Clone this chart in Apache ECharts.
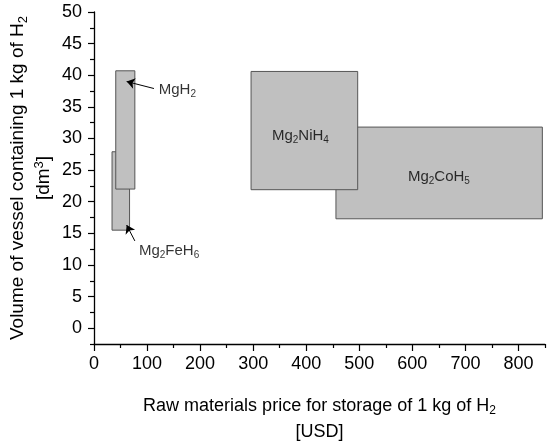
<!DOCTYPE html>
<html>
<head>
<meta charset="utf-8">
<script src="https://cdn.jsdelivr.net/npm/echarts@6/dist/echarts.min.js"></script>
<style>html,body{margin:0;padding:0;background:#fff;}#c{width:550px;height:442px;}</style>
</head>
<body>
<div id="c"></div>
<script>
// Rectangles: [xMin, xMax, yMin, yMax] (USD, dm3), drawn in this order
const boxNames = ['Mg2FeH6', 'MgH2', 'Mg2CoH5', 'Mg2NiH4'];
const boxRanges = [
  [34, 67, 15.5, 27.9],
  [41, 77, 22.0, 40.7],
  [456, 845, 17.3, 31.8],
  [296, 497, 21.9, 40.6]
];
// Arrows: [fromX, fromY, toX, toY]
const arrowSegs = [
  [113, 37.9, 61.6, 39.0],
  [77, 13.8, 61.6, 16.3]
];
// Labels: [x, y, rich text, placement]
const labelItems = [
  [122, 37.7, '{n|MgH}{s|2}', 'right'],
  [84.7, 12.3, '{n|Mg}{s|2}{n|FeH}{s|6}', 'right'],
  [389, 30.4, '{n|Mg}{s|2}{n|NiH}{s|4}', 'inside'],
  [650, 24.0, '{n|Mg}{s|2}{n|CoH}{s|5}', 'inside']
];
const xMajor = [0, 100, 200, 300, 400, 500, 600, 700, 800];
const xMinor = [50, 150, 250, 350, 450, 550, 650, 750, 850];
const yMajor = [0, 5, 10, 15, 20, 25, 30, 35, 40, 45, 50];
const yMinor = [-2.5, 2.5, 7.5, 12.5, 17.5, 22.5, 27.5, 32.5, 37.5, 42.5, 47.5];

const FONT = "'Liberation Sans', Arial, sans-serif";
const richLbl = {
  n: {fontSize: 15, fontFamily: FONT, color: '#000'},
  s: {fontSize: 10, fontFamily: FONT, color: '#000', padding: [9, 0, 0, 0]}
};
function richName(fs) {
  return {
    n: {fontSize: fs, fontFamily: FONT, color: '#000'},
    s: {fontSize: Math.round(fs * 0.66), fontFamily: FONT, color: '#000', padding: [10, 0, 0, 0]},
    p: {fontSize: Math.round(fs * 0.66), fontFamily: FONT, color: '#000', padding: [0, 0, 10, 0]}
  };
}

const chart = echarts.init(document.getElementById('c'), null, {renderer: 'canvas'});
const axisLine = {show: true, onZero: false, lineStyle: {color: '#000', width: 1.3}};
const tickStyle = {color: '#000', width: 1.2};

chart.setOption({
  animation: false,
  backgroundColor: '#fff',
  grid: {left: 94, right: 5, top: 12, bottom: 98, outerBoundsMode: 'none', containLabel: false},
  xAxis: [{
    type: 'value', min: 0, max: 850,
    axisLine: axisLine,
    axisTick: {show: true, length: 7, customValues: xMajor, lineStyle: tickStyle},
    axisLabel: {fontSize: 18, fontFamily: FONT, color: '#000', margin: 11, customValues: xMajor},
    splitLine: {show: false},
    name: '{n|Raw materials price for storage of 1 kg of H}{s|2}\n{n|[USD]}',
    nameLocation: 'middle', nameGap: 49, nameMoveOverlap: false,
    nameTextStyle: {lineHeight: 26, align: 'center', rich: richName(18)}
  }, {
    type: 'value', min: 0, max: 850, position: 'bottom',
    axisLine: {show: false, onZero: false},
    axisTick: {show: true, length: 4, customValues: xMinor, lineStyle: tickStyle},
    axisLabel: {show: false},
    splitLine: {show: false}
  }],
  yAxis: [{
    type: 'value', min: -2.5, max: 50,
    axisLine: axisLine,
    axisTick: {show: true, length: 6, customValues: yMajor, lineStyle: tickStyle},
    axisLabel: {fontSize: 18, fontFamily: FONT, color: '#000', margin: 12, customValues: yMajor},
    splitLine: {show: false},
    name: '{n|Volume of vessel containing 1 kg of H}{s|2}\n{n|[dm}{p|3}{n|]}',
    nameLocation: 'middle', nameGap: 37, nameMoveOverlap: false,
    nameTextStyle: {lineHeight: 26, align: 'center', rich: richName(19)}
  }, {
    type: 'value', min: -2.5, max: 50, position: 'left',
    axisLine: {show: false, onZero: false},
    axisTick: {show: true, length: 4, customValues: yMinor, lineStyle: tickStyle},
    axisLabel: {show: false},
    splitLine: {show: false}
  }],
  series: [{
    type: 'custom',
    coordinateSystem: 'cartesian2d',
    encode: {x: [0, 1], y: [2, 3]},
    data: boxRanges,
    renderItem: function (params, api) {
      const tl = api.coord([api.value(0), api.value(3)]);
      const br = api.coord([api.value(1), api.value(2)]);
      return {
        type: 'rect',
        shape: {x: tl[0], y: tl[1], width: br[0] - tl[0], height: br[1] - tl[1]},
        style: {fill: '#c0c0c0', stroke: '#555555', lineWidth: 1}
      };
    },
    z: 2
  }, {
    type: 'lines',
    coordinateSystem: 'cartesian2d',
    symbol: ['none', 'arrow'],
    symbolSize: [1, 8],
    lineStyle: {color: '#000', width: 1, opacity: 1, curveness: 0},
    data: arrowSegs.map(a => ({coords: [[a[0], a[1]], [a[2], a[3]]]})),
    z: 5
  }, {
    type: 'scatter',
    symbolSize: 0,
    data: labelItems.map(l => ({
      value: [l[0], l[1]],
      label: {show: true, formatter: l[2], position: l[3], distance: 0, rich: richLbl}
    })),
    z: 6
  }]
});
</script>
</body>
</html>
